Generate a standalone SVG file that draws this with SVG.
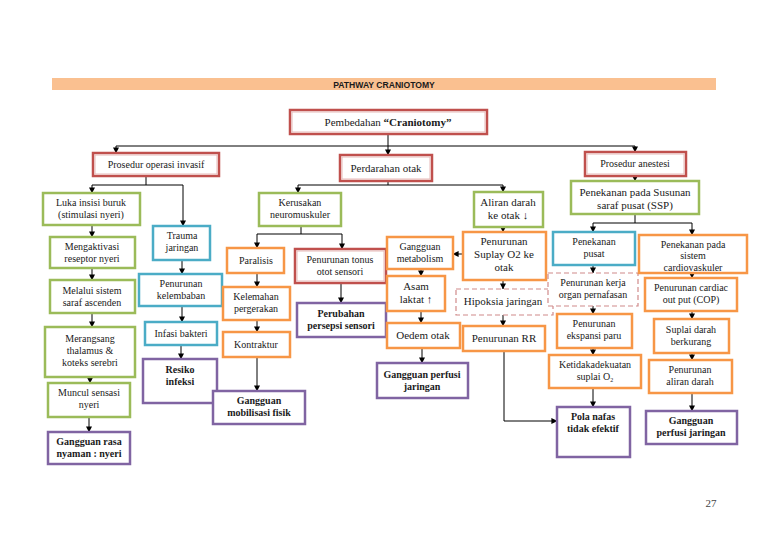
<svg xmlns="http://www.w3.org/2000/svg" width="768" height="543" viewBox="0 0 768 543" font-family="'Liberation Serif','Times New Roman',serif">
<defs>
<marker id="ah" viewBox="0 0 8 8" refX="7.5" refY="4" markerWidth="6" markerHeight="6" markerUnits="userSpaceOnUse" orient="auto"><path d="M0,0 L8,4 L0,8 z" fill="#000"/></marker>
<clipPath id="cvclip"><rect x="639" y="235" width="108" height="37"/></clipPath>
</defs>
<style>
.b{fill:#fff;stroke-width:2.5}
.red{stroke:#C0504D}
.grn{stroke:#9BBB59}
.blu{stroke:#4BACC6}
.org{stroke:#F79646}
.pur{stroke:#8064A2}
.in{fill:none;stroke:#E6B9B8;stroke-width:1}
.dsh{fill:#fff;stroke:#D08A8A;stroke-width:1.2;stroke-dasharray:5 3}
text{font-family:"Liberation Serif","Times New Roman",serif;font-size:10px;fill:#1a1a1a;text-anchor:middle}
.l{font-size:11px}
.bd{font-weight:bold}
.c line,.c path{stroke:#000;stroke-width:1;fill:none;marker-end:url(#ah)}
.c .n{marker-end:none}
</style>
<rect width="768" height="543" fill="#fff"/>
<g id="header">
<rect x="52" y="78" width="664" height="12" fill="#FAC090"/>
<text x="384" y="87.5" style="font-family:'Liberation Sans',Arial,sans-serif;font-size:8.6px;font-weight:bold">PATHWAY CRANIOTOMY</text>
</g>
<g class="c" id="connectors">
<line x1="388" y1="134" x2="388" y2="155"/>
<line class="n" x1="116" y1="146" x2="635" y2="146"/>
<line x1="116" y1="146" x2="116" y2="153"/>
<line x1="635" y1="146" x2="635" y2="152"/>
<line class="n" x1="146" y1="176" x2="146" y2="185"/>
<line class="n" x1="92" y1="185" x2="183" y2="185"/>
<line x1="92" y1="185" x2="92" y2="193"/>
<line x1="183" y1="185" x2="183" y2="226"/>
<line x1="92" y1="225" x2="92" y2="237"/>
<line x1="92" y1="268" x2="92" y2="280"/>
<line x1="92" y1="313" x2="92" y2="327"/>
<line x1="90" y1="377" x2="90" y2="383"/>
<line x1="89" y1="417" x2="89" y2="432"/>
<line x1="182" y1="260" x2="182" y2="274"/>
<line x1="182" y1="306" x2="182" y2="322"/>
<line x1="181" y1="345" x2="181" y2="359"/>
<line class="n" x1="388" y1="181" x2="388" y2="185"/>
<line class="n" x1="298" y1="185" x2="503" y2="185"/>
<line x1="298" y1="185" x2="298" y2="193"/>
<line x1="503" y1="185" x2="503" y2="192"/>
<line class="n" x1="301" y1="226" x2="301" y2="234"/>
<line class="n" x1="257" y1="234" x2="342" y2="234"/>
<line x1="257" y1="234" x2="257" y2="248"/>
<line x1="342" y1="234" x2="342" y2="249"/>
<line x1="257" y1="273" x2="257" y2="287"/>
<line x1="257" y1="320" x2="257" y2="332"/>
<line x1="257" y1="357" x2="257" y2="391"/>
<line x1="341" y1="283" x2="341" y2="303"/>
<line x1="503" y1="227" x2="503" y2="232"/>
<line x1="503" y1="280" x2="503" y2="289"/>
<line x1="503" y1="315" x2="503" y2="326"/>
<path d="M504,351 V421 H557"/>
<line x1="463" y1="254" x2="453" y2="254"/>
<line x1="421" y1="269" x2="421" y2="276"/>
<line x1="421" y1="311" x2="421" y2="323"/>
<line x1="422" y1="348" x2="422" y2="363"/>
<line x1="635" y1="176" x2="635" y2="181"/>
<line class="n" x1="635" y1="214" x2="635" y2="223"/>
<line class="n" x1="593" y1="223" x2="692" y2="223"/>
<line x1="593" y1="223" x2="593" y2="232"/>
<line x1="692" y1="223" x2="692" y2="235"/>
<line x1="593" y1="265" x2="593" y2="273"/>
<line x1="593" y1="306" x2="593" y2="314"/>
<line x1="593" y1="348" x2="593" y2="355"/>
<line x1="593" y1="388" x2="593" y2="407"/>
<line x1="692" y1="273" x2="692" y2="278"/>
<line x1="692" y1="311" x2="692" y2="319"/>
<line x1="692" y1="353" x2="692" y2="360"/>
<line x1="692" y1="393" x2="692" y2="411"/>
</g>
<g id="pembedahan"><rect class="b red" x="290" y="110" width="197" height="24"/><rect class="in" x="292" y="112" width="193" height="20"/><text x="388" y="126" class="l">Pembedahan <tspan class="bd">“Craniotomy”</tspan></text></g>
<g id="prosedur-operasi"><rect class="b red" x="93" y="153" width="126" height="23"/><rect class="in" x="95" y="155" width="122" height="19"/><text x="156" y="168">Prosedur operasi invasif</text></g>
<g id="perdarahan"><rect class="b red" x="340" y="155" width="92" height="26"/><rect class="in" x="342" y="157" width="88" height="22"/><text x="386" y="172" class="l">Perdarahan otak</text></g>
<g id="prosedur-anestesi"><rect class="b red" x="585" y="152" width="101" height="24"/><rect class="in" x="587" y="154" width="97" height="20"/><text x="635" y="167">Prosedur anestesi</text></g>

<g id="luka"><rect class="b grn" x="43" y="193" width="97" height="32"/><text x="91" y="206">Luka insisi buruk</text><text x="91" y="218">(stimulasi nyeri)</text></g>
<g id="mengaktivasi"><rect class="b grn" x="50" y="237" width="85" height="31"/><text x="92" y="250">Mengaktivasi</text><text x="92" y="262">reseptor nyeri</text></g>
<g id="melalui"><rect class="b grn" x="50" y="280" width="85" height="33"/><text x="92" y="294">Melalui sistem</text><text x="92" y="306">saraf ascenden</text></g>
<g id="merangsang"><rect class="b grn" x="45" y="327" width="90" height="50"/><text x="90" y="342">Merangsang</text><text x="90" y="354">thalamus &amp;</text><text x="90" y="366">koteks serebri</text></g>
<g id="muncul"><rect class="b grn" x="48" y="383" width="82" height="34"/><text x="89" y="396">Muncul sensasi</text><text x="89" y="408">nyeri</text></g>
<g id="gangguan-nyaman"><rect class="b pur" x="48" y="432" width="82" height="32"/><text x="89" y="445" class="bd">Gangguan rasa</text><text x="89" y="457" class="bd">nyaman : nyeri</text></g>

<g id="trauma"><rect class="b blu" x="153" y="226" width="57" height="34"/><text x="182" y="239">Trauma</text><text x="182" y="251">jaringan</text></g>
<g id="kelembaban"><rect class="b blu" x="139" y="274" width="83" height="32"/><text x="181" y="287">Penurunan</text><text x="181" y="299">kelembaban</text></g>
<g id="infasi"><rect class="b blu" x="145" y="322" width="72" height="23"/><text x="181" y="337">Infasi bakteri</text></g>
<g id="resiko"><rect class="b pur" x="143" y="359" width="74" height="44"/><text x="180" y="373" class="bd">Resiko</text><text x="180" y="385" class="bd">infeksi</text></g>

<g id="kerusakan"><rect class="b grn" x="259" y="193" width="82" height="33"/><text x="300" y="206">Kerusakan</text><text x="300" y="218">neuromuskuler</text></g>
<g id="paralisis"><rect class="b org" x="227" y="248" width="57" height="25"/><text x="256" y="264">Paralisis</text></g>
<g id="kelemahan"><rect class="b org" x="223" y="287" width="67" height="33"/><text x="256" y="300">Kelemahan</text><text x="256" y="312">pergerakan</text></g>
<g id="kontraktur"><rect class="b org" x="223" y="332" width="67" height="25"/><text x="256" y="348">Kontraktur</text></g>
<g id="mobilisasi"><rect class="b pur" x="213" y="391" width="92" height="33"/><text x="259" y="404" class="bd">Gangguan</text><text x="259" y="416" class="bd">mobilisasi fisik</text></g>
<g id="tonus"><rect class="b red" x="295" y="249" width="91" height="34"/><rect class="in" x="297" y="251" width="87" height="30"/><text x="340" y="263">Penurunan tonus</text><text x="340" y="275">otot sensori</text></g>
<g id="persepsi"><rect class="b pur" x="297" y="303" width="89" height="34"/><text x="341" y="317" class="bd">Perubahan</text><text x="341" y="329" class="bd">persepsi sensori</text></g>

<g id="metabolism"><rect class="b org" x="387" y="237" width="66" height="32"/><text x="420" y="250">Gangguan</text><text x="420" y="262">metabolism</text></g>
<g id="asam"><rect class="b org" x="387" y="276" width="58" height="35"/><text x="416" y="290" class="l">Asam</text><text x="416" y="303" class="l">laktat ↑</text></g>
<g id="oedem"><rect class="b org" x="387" y="323" width="73" height="25"/><text x="423" y="339" class="l">Oedem otak</text></g>
<g id="perfusi-tengah"><rect class="b pur" x="377" y="363" width="91" height="35"/><text x="422" y="378" class="bd">Gangguan perfusi</text><text x="422" y="390" class="bd">jaringan</text></g>

<g id="aliran"><rect class="b grn" x="474" y="192" width="69" height="35"/><text x="508" y="206" class="l">Aliran darah</text><text x="508" y="219" class="l">ke otak ↓</text></g>
<g id="suplay"><rect class="b org" x="463" y="232" width="83" height="48"/><text x="504" y="245" class="l">Penurunan</text><text x="504" y="258" class="l">Suplay O2 ke</text><text x="504" y="271" class="l">otak</text></g>
<g id="hipoksia"><rect class="dsh" x="456" y="289" width="97" height="26"/><text x="503" y="305" class="l">Hipoksia jaringan</text></g>
<g id="rr"><rect class="b org" x="463" y="326" width="82" height="25"/><text x="504" y="342" class="l">Penurunan RR</text></g>
<g id="pola"><rect class="b pur" x="557" y="407" width="73" height="50"/><text x="593" y="420" class="bd">Pola nafas</text><text x="593" y="432" class="bd">tidak efektif</text></g>

<g id="ssp"><rect class="b grn" x="571" y="181" width="128" height="33"/><text x="635" y="196" class="l">Penekanan pada Susunan</text><text x="635" y="209" class="l">saraf pusat (SSP)</text></g>
<g id="pusat"><rect class="b blu" x="553" y="232" width="82" height="33"/><text x="594" y="245">Penekanan</text><text x="594" y="257">pusat</text></g>
<g id="kerja-organ"><rect class="dsh" x="548" y="273" width="90" height="33"/><text x="593" y="286">Penurunan kerja</text><text x="593" y="298">organ pernafasan</text></g>
<g id="ekspansi"><rect class="b org" x="557" y="314" width="75" height="34"/><text x="594" y="327">Penurunan</text><text x="594" y="339">ekspansi paru</text></g>
<g id="ketidakadekuatan"><rect class="b org" x="549" y="355" width="92" height="33"/><text x="595" y="368">Ketidakadekuatan</text><text x="595" y="380">suplai O<tspan font-size="6" dy="2">2</tspan></text></g>

<g id="cardiovaskuler"><rect class="b org" x="639" y="235" width="108" height="38"/><g clip-path="url(#cvclip)"><text x="693" y="248">Penekanan pada</text><text x="693" y="259">sistem</text><text x="693" y="271">cardiovaskuler</text></g></g>
<g id="cop"><rect class="b org" x="645" y="278" width="92" height="33"/><text x="691" y="291">Penurunan cardiac</text><text x="691" y="303">out put (COP)</text></g>
<g id="suplai-darah"><rect class="b org" x="654" y="319" width="75" height="34"/><text x="691" y="333">Suplai darah</text><text x="691" y="345">berkurang</text></g>
<g id="aliran-turun"><rect class="b org" x="649" y="360" width="83" height="33"/><text x="690" y="373">Penurunan</text><text x="690" y="385">aliran darah</text></g>
<g id="perfusi-kanan"><rect class="b pur" x="646" y="411" width="91" height="33"/><text x="691" y="424" class="bd">Gangguan</text><text x="691" y="436" class="bd">perfusi jaringan</text></g>

<text x="711" y="507" style="font-family:'Liberation Serif',serif;font-size:11px;fill:#444">27</text>
</svg>
